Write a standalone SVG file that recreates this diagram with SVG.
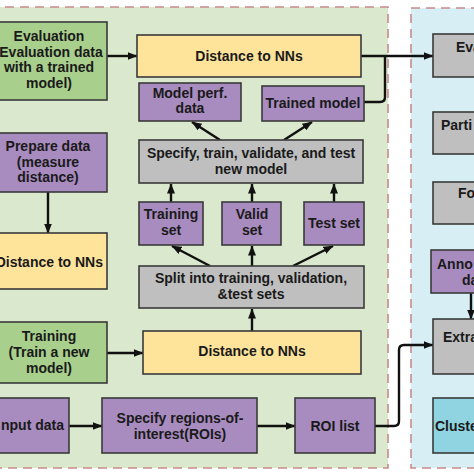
<svg xmlns="http://www.w3.org/2000/svg" width="474" height="474" viewBox="0 0 474 474">
<defs>
<marker id="ah" markerUnits="userSpaceOnUse" markerWidth="10" markerHeight="8" refX="9.5" refY="4" orient="auto"><path d="M0,0 L10,4 L0,8 z" fill="#111"/></marker>
<style>
.panel{stroke:#c98a8a;stroke-width:1.6;stroke-dasharray:9 6}
.n{stroke:#3a3a3a;stroke-width:1.6}
.green{fill:#a9cf8d}
.purple{fill:#a88bbf}
.yellow{fill:#fee49b}
.gray{fill:#bfbfbf}
.cyan{fill:#8fd4e0}
text{font-family:"Liberation Sans",Arial,sans-serif;font-weight:bold;font-size:14px;fill:#1a1a1a}
.c{text-anchor:middle}
.conn{fill:none;stroke:#111;stroke-width:2.4}
</style>
</defs>
<rect width="474" height="474" fill="#fff"/>
<g id="panels">
<rect class="panel" x="-10" y="7" width="398" height="461" fill="#dae8cd"/>
<rect class="panel" x="411" y="8" width="80" height="460" fill="#d7eff4"/>
</g>
<g id="connectors">
<line class="conn" x1="107" y1="56" x2="137" y2="56" marker-end="url(#ah)"/>
<line class="conn" x1="361" y1="56" x2="433" y2="56" marker-end="url(#ah)"/>
<path class="conn" d="M364,102 H380 Q385,102 385,97 V56"/>
<line class="conn" x1="220" y1="140" x2="192" y2="122" marker-end="url(#ah)"/>
<line class="conn" x1="284" y1="140" x2="312" y2="122" marker-end="url(#ah)"/>
<line class="conn" x1="171" y1="202" x2="171" y2="184" marker-end="url(#ah)"/>
<line class="conn" x1="252" y1="202" x2="252" y2="184" marker-end="url(#ah)"/>
<line class="conn" x1="334" y1="202" x2="334" y2="184" marker-end="url(#ah)"/>
<line class="conn" x1="210" y1="266" x2="172" y2="246" marker-end="url(#ah)"/>
<line class="conn" x1="252" y1="266" x2="252" y2="246" marker-end="url(#ah)"/>
<line class="conn" x1="293" y1="266" x2="333" y2="246" marker-end="url(#ah)"/>
<line class="conn" x1="252" y1="331" x2="252" y2="309" marker-end="url(#ah)"/>
<line class="conn" x1="48" y1="192" x2="48" y2="233" marker-end="url(#ah)"/>
<line class="conn" x1="107" y1="353" x2="143" y2="353" marker-end="url(#ah)"/>
<line class="conn" x1="69" y1="426" x2="102" y2="426" marker-end="url(#ah)"/>
<line class="conn" x1="257" y1="426" x2="295" y2="426" marker-end="url(#ah)"/>
<path class="conn" d="M375,426 H394 Q399,426 399,421 V350 Q399,345 404,345 H433" marker-end="url(#ah)"/>
<line class="conn" x1="471" y1="293" x2="471" y2="319" marker-end="url(#ah)"/>
</g>
<g id="evaluation">
<rect class="n green" x="-10" y="22" width="117" height="78"/>
<text class="c" x="49" y="41">Evaluation</text>
<text class="c" x="51" y="57">Evaluation data</text>
<text class="c" x="49" y="72">with a trained</text>
<text class="c" x="49" y="88">model)</text>
</g>
<g id="dist-top">
<rect class="n yellow" x="137" y="35" width="224" height="42"/>
<text class="c" x="249" y="61">Distance to NNs</text>
</g>
<g id="model-perf">
<rect class="n purple" x="139" y="83" width="102" height="38"/>
<text class="c" x="190" y="98">Model perf.</text>
<text class="c" x="190" y="113">data</text>
</g>
<g id="trained-model">
<rect class="n purple" x="262" y="86" width="102" height="35"/>
<text class="c" x="313" y="108">Trained model</text>
</g>
<g id="specify-train">
<rect class="n gray" x="139" y="140" width="224" height="43"/>
<text class="c" x="251" y="158">Specify, train, validate, and test</text>
<text class="c" x="251" y="174">new model</text>
</g>
<g id="training-set">
<rect class="n purple" x="139" y="202" width="64" height="43"/>
<text class="c" x="171" y="219">Training</text>
<text class="c" x="171" y="235">set</text>
</g>
<g id="valid-set">
<rect class="n purple" x="222" y="202" width="59" height="43"/>
<text class="c" x="252" y="219">Valid</text>
<text class="c" x="252" y="235">set</text>
</g>
<g id="test-set">
<rect class="n purple" x="304" y="202" width="60" height="43"/>
<text class="c" x="334" y="228">Test set</text>
</g>
<g id="split">
<rect class="n gray" x="139" y="266" width="225" height="42"/>
<text class="c" x="251" y="283">Split into training, validation,</text>
<text class="c" x="251" y="299">&amp;test sets</text>
</g>
<g id="prepare">
<rect class="n purple" x="-10" y="133" width="117" height="59"/>
<text class="c" x="48" y="151">Prepare data</text>
<text class="c" x="48" y="167">(measure</text>
<text class="c" x="48" y="182">distance)</text>
</g>
<g id="dist-left">
<rect class="n yellow" x="-10" y="233" width="117" height="56"/>
<text x="103" y="267" text-anchor="end">Distance to NNs</text>
</g>
<g id="training">
<rect class="n green" x="-10" y="322" width="117" height="61"/>
<text class="c" x="49" y="341">Training</text>
<text class="c" x="49" y="357">(Train a new</text>
<text class="c" x="49" y="373">model)</text>
</g>
<g id="dist-mid">
<rect class="n yellow" x="143" y="331" width="218" height="43"/>
<text class="c" x="252" y="356">Distance to NNs</text>
</g>
<g id="input">
<rect class="n purple" x="-10" y="398" width="79" height="55"/>
<text x="64" y="430" text-anchor="end">nput data</text>
</g>
<g id="specify-roi">
<rect class="n purple" x="102" y="398" width="155" height="55"/>
<text class="c" x="180" y="423">Specify regions-of-</text>
<text class="c" x="180" y="439">interest(ROIs)</text>
</g>
<g id="roi-list">
<rect class="n purple" x="295" y="398" width="80" height="55"/>
<text class="c" x="335" y="431">ROI list</text>
</g>
<g id="eva">
<rect class="n gray" x="433" y="34" width="60" height="43"/>
<text x="456" y="52">Eva</text>
</g>
<g id="parti">
<rect class="n gray" x="433" y="112" width="60" height="42"/>
<text x="441" y="130">Parti</text>
</g>
<g id="fo">
<rect class="n gray" x="433" y="182" width="60" height="42"/>
<text x="458" y="198">Fo</text>
</g>
<g id="anno">
<rect class="n purple" x="431" y="250" width="60" height="43"/>
<text x="437" y="269">Anno</text>
<text x="462" y="285">da</text>
</g>
<g id="extra">
<rect class="n gray" x="433" y="319" width="60" height="55"/>
<text x="443" y="342">Extra</text>
</g>
<g id="cluste">
<rect class="n cyan" x="433" y="398" width="60" height="55"/>
<text x="435" y="431">Cluste</text>
</g>
</svg>
